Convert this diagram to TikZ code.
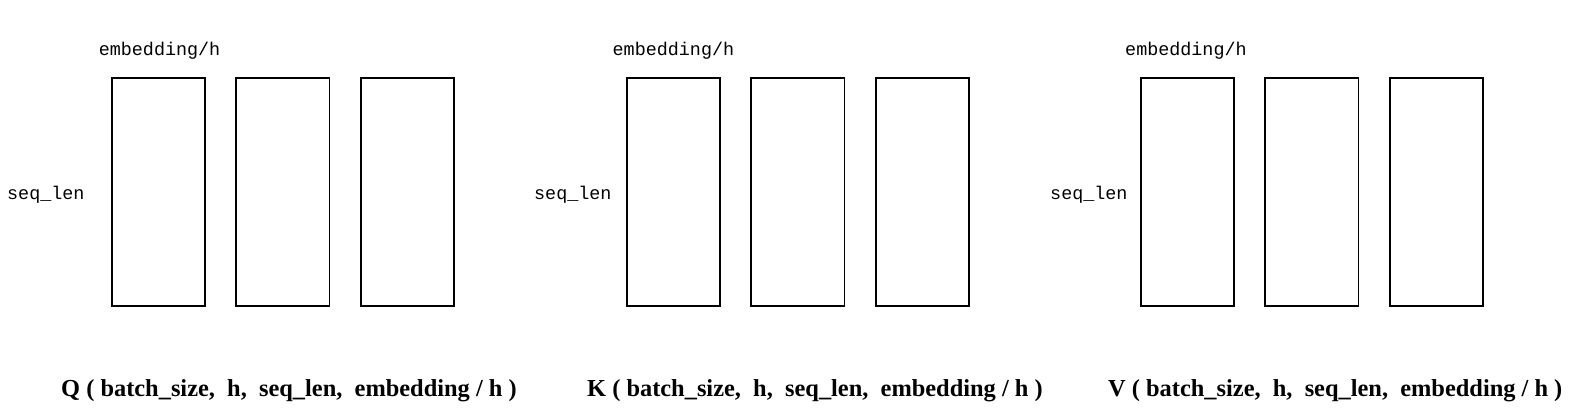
\documentclass[tikz,border=0pt]{standalone}
\usepackage{fontspec}
\setmainfont{Liberation Serif}
\newfontfamily\monofont{Liberation Mono}
\usetikzlibrary{positioning}

\tikzset{
	headbox/.style={draw, line width=1.8pt, minimum width=93.4pt, minimum height=227.3pt, inner sep=0pt},
	dimlabel/.style={inner sep=0pt, anchor=base west, font=\monofont\fontsize{18.4}{20}\selectfont},
	caption/.style={inner sep=0pt, anchor=base west, font=\bfseries\fontsize{24.4}{28}\selectfont}
}

\begin{document}
\begin{tikzpicture}[x=1pt, y=-1pt, node distance=29.3pt]
	\useasboundingbox (0,0) rectangle (1577,415);
	
	% Q
	\node [headbox] (q1) at (158.3,192) {};
	\node [headbox, right=of q1] (q2) {};
	\node [headbox, right=of q2] (q3) {};
	\node [dimlabel] (qemb) at (98.6,55.5) {embedding/h};		% oben
	\node [dimlabel] (qseq) at (7,199) {seq\_len};				% links
	\node [caption] (qcap) at (61,396) {Q ( batch\_size,\ \ h,\ \ seq\_len,\ \ embedding / h )};
	
	% K
	\node [headbox] (k1) at (673.3,192) {};
	\node [headbox, right=of k1] (k2) {};
	\node [headbox, right=of k2] (k3) {};
	\node [dimlabel] (kemb) at (612.5,55.5) {embedding/h};
	\node [dimlabel] (kseq) at (534,199) {seq\_len};
	\node [caption] (kcap) at (587,396) {K ( batch\_size,\ \ h,\ \ seq\_len,\ \ embedding / h )};
	
	% V
	\node [headbox] (v1) at (1187.3,192) {};
	\node [headbox, right=of v1] (v2) {};
	\node [headbox, right=of v2] (v3) {};
	\node [dimlabel] (vemb) at (1125,55.5) {embedding/h};
	\node [dimlabel] (vseq) at (1050,199) {seq\_len};
	\node [caption] (vcap) at (1108,396) {V ( batch\_size,\ \ h,\ \ seq\_len,\ \ embedding / h )};
\end{tikzpicture}
\end{document}
